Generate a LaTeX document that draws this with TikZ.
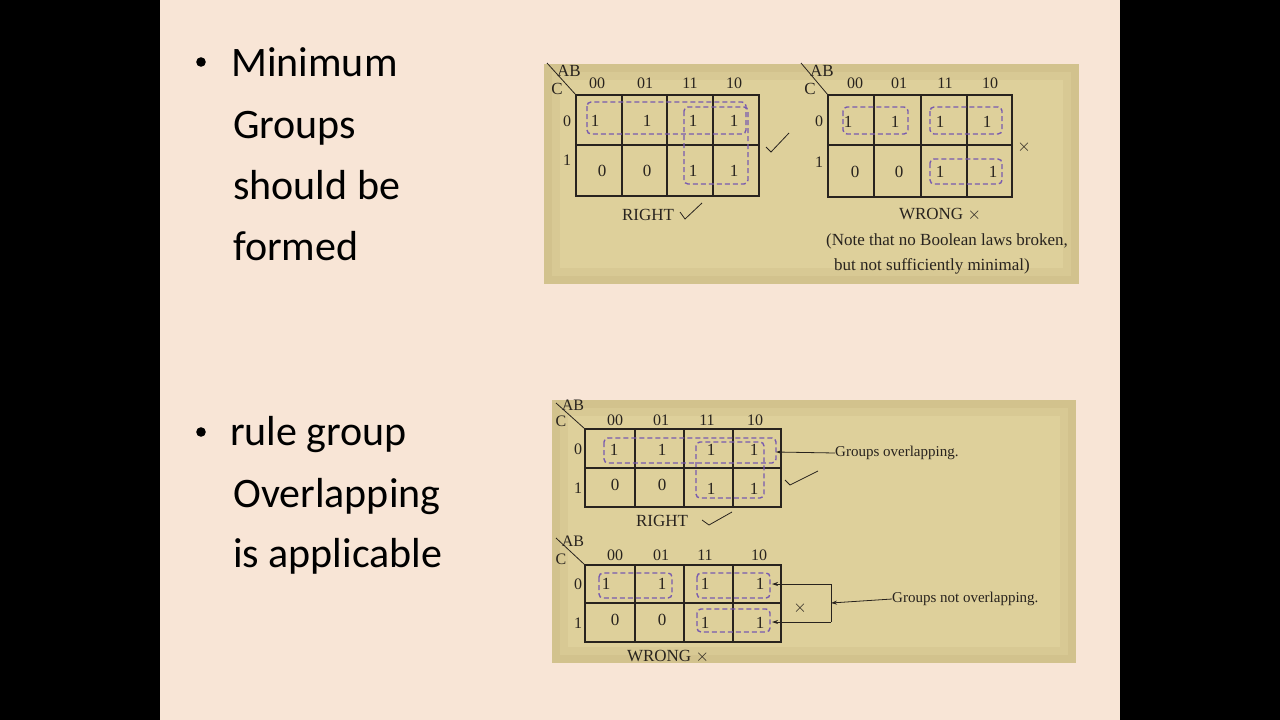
\documentclass[tikz,border=0pt]{standalone}
\usepackage{fontspec}
\setmainfont{Liberation Serif}
\newfontfamily\slidefont{Carlito}
\usetikzlibrary{arrows.meta}
\definecolor{slidebg}{RGB}{248,229,214}
\definecolor{paper}{RGB}{222,208,155}
\definecolor{paperedge}{RGB}{140,115,60}
\definecolor{grp}{RGB}{120,90,175}
\definecolor{ink}{RGB}{40,35,30}
\tikzset{
  bullettext/.style={font=\slidefont\fontsize{42}{42}\selectfont, anchor=base west, inner sep=0pt, text=black},
  gridline/.style={draw=ink, line width=1.2pt},
  grptxt/.style={font=\fontsize{16}{16}\selectfont, text=ink, inner sep=0pt},
  cellv/.style={font=\fontsize{17}{17}\selectfont, text=ink, inner sep=0pt},
  lbl/.style={font=\fontsize{17}{17}\selectfont, text=ink, inner sep=0pt},
  grpbox/.style={draw=grp, line width=1.4pt, dash pattern=on 5pt off 3pt, rounded corners=4pt},
  thin/.style={draw=ink, line width=0.8pt},
  ptr/.style={draw=ink, line width=0.8pt, -{Stealth[length=6pt,width=4pt]}}
}
\begin{document}
\begin{tikzpicture}[x=1pt,y=-1pt]
\useasboundingbox (0,0) rectangle (1280,720);
\fill[black] (0,0) rectangle (1280,720);
\fill[slidebg] (160,0) rectangle (1120,720);

% bullets
\fill (201,62) circle (4.8);
\node[bullettext] (b1a) at (231,76) {Minimum};
\node[bullettext] (b1b) at (233,138) {Groups};
\node[bullettext] (b1c) at (233,199) {should be};
\node[bullettext] (b1d) at (233,260) {formed};
\fill (201,432) circle (4.8);
\node[bullettext] (b2a) at (230,445) {rule group};
\node[bullettext] (b2b) at (233,507) {Overlapping};
\node[bullettext] (b2c) at (233,567) {is applicable};

% parchment panels
\fill[paper] (544,64) rectangle (1079,284);
\foreach \i in {0,...,9} {
  \draw[paperedge, opacity=0.07, line width=1.6pt] ({544+0.8+\i*1.6},{64+0.8+\i*1.6}) rectangle ({1079-0.8-\i*1.6},{284-0.8-\i*1.6});
}
\foreach \i in {0,...,4} {
  \draw[paperedge, opacity=0.08, line width=1.6pt] ({544+0.8+\i*1.6},{64+0.8+\i*1.6}) rectangle ({1079-0.8-\i*1.6},{284-0.8-\i*1.6});
}
\fill[paper] (552,400) rectangle (1076,663);
\foreach \i in {0,...,9} {
  \draw[paperedge, opacity=0.07, line width=1.6pt] ({552+0.8+\i*1.6},{400+0.8+\i*1.6}) rectangle ({1076-0.8-\i*1.6},{663-0.8-\i*1.6});
}
\foreach \i in {0,...,4} {
  \draw[paperedge, opacity=0.08, line width=1.6pt] ({552+0.8+\i*1.6},{400+0.8+\i*1.6}) rectangle ({1076-0.8-\i*1.6},{663-0.8-\i*1.6});
}

% ---------- K-map 1 (top left, RIGHT)
\draw[gridline] (576,95) rectangle (759,196);
\draw[gridline] (576,145) -- (759,145);
\foreach \x in {622,667,713} \draw[gridline] (\x,95) -- (\x,196);
\draw[thin] (547,63) -- (576,95);
\node[lbl] (k1ab) at (569,71) {AB};
\node[lbl] (k1c) at (557,89) {C};
\node[grptxt] (k1c00) at (597,83) {00};
\node[grptxt] (k1c01) at (645,83) {01};
\node[grptxt] (k1c11) at (690,83) {11};
\node[grptxt] (k1c10) at (734,83) {10};
\node[grptxt] (k1r0) at (567,121) {0};
\node[grptxt] (k1r1) at (567,160) {1};
\node[cellv] (k1a) at (595,121) {1};
\node[cellv] (k1b) at (647,121) {1};
\node[cellv] (k1d) at (693,121) {1};
\node[cellv] (k1e) at (734,121) {1};
\node[cellv] (k1f) at (602,171) {0};
\node[cellv] (k1g) at (647,171) {0};
\node[cellv] (k1h) at (693,171) {1};
\node[cellv] (k1i) at (734,171) {1};
\draw[grpbox] (587,102) rectangle (746,134);
\draw[grpbox] (684,107) rectangle (748,184);
\draw[thin] (766,147) -- (771,152) -- (789,133);
\node[lbl] (k1t) at (648,215) {RIGHT};
\draw[thin] (680,212) -- (685,219) -- (702,203);

% ---------- K-map 2 (top right, WRONG)
\draw[gridline] (828,95) rectangle (1012,197);
\draw[gridline] (828,145) -- (1012,145);
\foreach \x in {874,921,967} \draw[gridline] (\x,95) -- (\x,197);
\draw[thin] (801,63) -- (828,95);
\node[lbl] (k2ab) at (822,71) {AB};
\node[lbl] (k2c) at (810,89) {C};
\node[grptxt] (k2c00) at (855,83) {00};
\node[grptxt] (k2c01) at (899,83) {01};
\node[grptxt] (k2c11) at (945,83) {11};
\node[grptxt] (k2c10) at (990,83) {10};
\node[grptxt] (k2r0) at (819,121) {0};
\node[grptxt] (k2r1) at (819,162) {1};
\node[cellv] (k2a) at (848,122) {1};
\node[cellv] (k2b) at (895,122) {1};
\node[cellv] (k2d) at (940,122) {1};
\node[cellv] (k2e) at (987,122) {1};
\node[cellv] (k2f) at (855,172) {0};
\node[cellv] (k2g) at (899,172) {0};
\node[cellv] (k2h) at (940,172) {1};
\node[cellv] (k2i) at (993,172) {1};
\draw[grpbox] (843,107) rectangle (908,134);
\draw[grpbox] (930,107) rectangle (1002,134);
\draw[grpbox] (930,159) rectangle (1002,184);
\node[lbl] (k2x) at (1024,147) {$\times$};
\node[lbl] (k2t) at (940,215) {WRONG $\times$};
\node[lbl, anchor=west] (k2n1) at (826,241) {(Note that no Boolean laws broken,};
\node[lbl, anchor=west] (k2n2) at (834,266) {but not sufficiently minimal)};

% ---------- K-map 3 (lower, RIGHT)
\draw[gridline] (585,429) rectangle (781,507);
\draw[gridline] (585,468) -- (781,468);
\foreach \x in {635,684,733} \draw[gridline] (\x,429) -- (\x,507);
\draw[thin] (556,403) -- (585,429);
\node[grptxt] (k3ab) at (573,405) {AB};
\node[grptxt] (k3c) at (561,421) {C};
\node[grptxt] (k3c00) at (615,420) {00};
\node[grptxt] (k3c01) at (661,420) {01};
\node[grptxt] (k3c11) at (707,420) {11};
\node[grptxt] (k3c10) at (755,420) {10};
\node[grptxt] (k3r0) at (578,449) {0};
\node[grptxt] (k3r1) at (578,488) {1};
\node[cellv] (k3a) at (614,450) {1};
\node[cellv] (k3b) at (662,450) {1};
\node[cellv] (k3d) at (711,450) {1};
\node[cellv] (k3e) at (754,450) {1};
\node[cellv] (k3f) at (615,485) {0};
\node[cellv] (k3g) at (662,485) {0};
\node[cellv] (k3h) at (711,489) {1};
\node[cellv] (k3i) at (754,489) {1};
\draw[grpbox] (604,438) rectangle (776,463);
\draw[grpbox] (696,442) rectangle (764,498);
\node[lbl, anchor=west, font=\fontsize{15}{15}\selectfont] (k3o) at (835,453) {Groups overlapping.};
\coordinate (k3tip) at (776,452);
\draw[ptr] (k3o.west) -- (k3tip);
\draw[thin] (785,480) -- (790,485) -- (818,471);
\node[lbl] (k3t) at (662,521) {RIGHT};
\draw[thin] (702,520) -- (709,525) -- (732,512);

% ---------- K-map 4 (lower, WRONG)
\draw[gridline] (585,565) rectangle (781,642);
\draw[gridline] (585,603) -- (781,603);
\foreach \x in {635,684,733} \draw[gridline] (\x,565) -- (\x,642);
\draw[thin] (556,538) -- (585,565);
\node[grptxt] (k4ab) at (573,541) {AB};
\node[grptxt] (k4c) at (561,559) {C};
\node[grptxt] (k4c00) at (615,555) {00};
\node[grptxt] (k4c01) at (661,555) {01};
\node[grptxt] (k4c11) at (705,555) {11};
\node[grptxt] (k4c10) at (759,555) {10};
\node[grptxt] (k4r0) at (578,584) {0};
\node[grptxt] (k4r1) at (578,623) {1};
\node[cellv] (k4a) at (606,584) {1};
\node[cellv] (k4b) at (662,584) {1};
\node[cellv] (k4d) at (705,584) {1};
\node[cellv] (k4e) at (760,584) {1};
\node[cellv] (k4f) at (615,620) {0};
\node[cellv] (k4g) at (662,620) {0};
\node[cellv] (k4h) at (705,623) {1};
\node[cellv] (k4i) at (760,623) {1};
\draw[grpbox] (599,573) rectangle (672,598);
\draw[grpbox] (697,573) rectangle (770,598);
\draw[grpbox] (697,609) rectangle (770,632);
\coordinate (k4bt) at (831,584);
\coordinate (k4bb) at (831,622);
\coordinate (k4tt) at (772,584);
\coordinate (k4tb) at (772,622);
\coordinate (k4bm) at (831,603);
\draw[ptr] (k4bt) -- (k4tt);
\draw[ptr] (k4bb) -- (k4tb);
\draw[thin] (k4bt) -- (k4bb);
\node[lbl] (k4x) at (800,608) {$\times$};
\node[lbl, anchor=west, font=\fontsize{15}{15}\selectfont] (k4o) at (892,599) {Groups not overlapping.};
\draw[ptr] (k4o.west) -- (k4bm);
\node[lbl] (k4t) at (668,657) {WRONG $\times$};
\end{tikzpicture}
\end{document}
